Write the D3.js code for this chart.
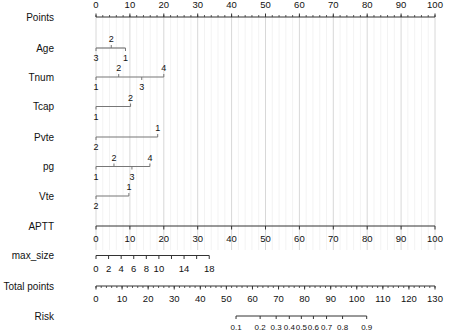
<!DOCTYPE html>
<html>
<head>
<meta charset="utf-8">
<script src="https://cdn.jsdelivr.net/npm/d3@7"></script>
<style>
  html, body { margin: 0; padding: 0; background: #fff; }
  svg text { font-family: "Liberation Sans", Arial, Helvetica, sans-serif; fill: #111; }
</style>
</head>
<body>
<svg id="chart" width="474" height="331"></svg>
<script>
// Nomogram: points contributed by each predictor, total points and predicted risk

// Points scale
const pointsMax = 100;
const pointsMajor = d3.range(0, 101, 10);
const pointsMinor = d3.range(0, 101, 2);

// Categorical predictors: level labels and the points they map to
const ageLevels  = ["3", "2", "1"];
const agePoints  = [0, 4.5, 8.7];
const ageSides   = ["below", "above", "below"];

const tnumLevels = ["1", "2", "3", "4"];
const tnumPoints = [0, 6.7, 13.5, 20.0];
const tnumSides  = ["below", "above", "below", "above"];

const tcapLevels = ["1", "2"];
const tcapPoints = [0, 10.2];
const tcapSides  = ["below", "above"];

const pvteLevels = ["2", "1"];
const pvtePoints = [0, 18.2];
const pvteSides  = ["below", "above"];

const pgLevels   = ["1", "2", "3", "4"];
const pgPoints   = [0, 5.3, 10.6, 15.9];
const pgSides    = ["below", "above", "below", "above"];

const vteLevels  = ["2", "1"];
const vtePoints  = [0, 9.7];
const vteSides   = ["below", "above"];

// Continuous predictors
const apttTicks = d3.range(0, 101, 10);
const apttRange = [0, 100];        // APTT value range
const apttPointRange = [0, 100];   // points for that range

const maxSizeTicks  = d3.range(0, 19, 2);
const maxSizeLabels = [0, 2, 4, 6, 8, 10, 14, 18];
const maxSizeRange = [0, 18];
const maxSizePointRange = [0, 33.4];

// Total points axis
const totalMax = 130;
const totalMajor = d3.range(0, 131, 10);
const totalMinor = d3.range(0, 131, 2);

// Risk axis, from a logistic model on total points
const riskTicks = [0.1, 0.2, 0.3, 0.4, 0.5, 0.6, 0.7, 0.8, 0.9];
const riskCenter = 78.75;   // total points where risk = 0.5
const riskSlope  = 0.0877;  // log-odds per total point

// Row labels
const rowNames = ["Points", "Age", "Tnum", "Tcap", "Pvte", "pg", "Vte", "APTT", "max_size", "Total points", "Risk"];

// ---------------------------------------------------------------
const svg = d3.select("#chart");
const xLeft = 96, xRight = 435;
const xPts = d3.scaleLinear().domain([0, pointsMax]).range([xLeft, xRight]);
const xTot = d3.scaleLinear().domain([0, totalMax]).range([xLeft, xRight]);

const rowY = [17, 48, 77, 106.5, 137, 166.5, 196, 226, 255.5, 286, 316];
const labelX = 54;
const axisColor = "#333";
const varColor = "#777";

// grid lines
const gridTop = rowY[0], gridBottom = 250;
const grid = svg.append("g");
grid.selectAll("line.minor")
  .data(pointsMinor.filter(v => v % 10 !== 0))
  .join("line")
  .attr("x1", d => xPts(d)).attr("x2", d => xPts(d))
  .attr("y1", gridTop).attr("y2", gridBottom)
  .attr("stroke", "#f3f3f3").attr("stroke-width", 1);
grid.selectAll("line.major")
  .data(pointsMajor)
  .join("line")
  .attr("x1", d => xPts(d)).attr("x2", d => xPts(d))
  .attr("y1", gridTop).attr("y2", gridBottom)
  .attr("stroke", "#d8d8d8").attr("stroke-width", 1);

// row labels
svg.append("g").selectAll("text")
  .data(rowNames)
  .join("text")
  .attr("x", labelX)
  .attr("y", (d, i) => rowY[i] + 3.5)
  .attr("text-anchor", "end")
  .attr("font-size", 10)
  .text(d => d);

// generic numeric axis: line, ticks, labels
function numericAxis(y, scale, major, minor, labels, side, fmt, fontSize) {
  const g = svg.append("g");
  const dir = side === "above" ? -1 : 1;
  const ext = d3.extent(major.concat(minor || []));
  g.append("line")
    .attr("x1", scale(ext[0])).attr("x2", scale(ext[1]))
    .attr("y1", y).attr("y2", y)
    .attr("stroke", axisColor).attr("stroke-width", 1);
  if (minor) {
    g.selectAll("line.mn").data(minor).join("line")
      .attr("x1", d => scale(d)).attr("x2", d => scale(d))
      .attr("y1", y).attr("y2", y + dir * 2)
      .attr("stroke", axisColor).attr("stroke-width", 0.8);
  }
  g.selectAll("line.mj").data(major).join("line")
    .attr("x1", d => scale(d)).attr("x2", d => scale(d))
    .attr("y1", y).attr("y2", y + dir * 3.5)
    .attr("stroke", axisColor).attr("stroke-width", 1);
  g.selectAll("text").data(labels).join("text")
    .attr("x", d => scale(d))
    .attr("y", side === "above" ? y - 9 : y + 16)
    .attr("text-anchor", "middle")
    .attr("font-size", fontSize)
    .text(d => fmt(d));
}

// categorical row: gray line with level labels alternating above/below
function categoricalRow(y, levels, pts, sides) {
  const g = svg.append("g");
  g.append("line")
    .attr("x1", xPts(d3.min(pts))).attr("x2", xPts(d3.max(pts)))
    .attr("y1", y).attr("y2", y)
    .attr("stroke", varColor).attr("stroke-width", 1.2);
  const items = levels.map((l, i) => ({ label: l, p: pts[i], side: sides[i] }));
  g.selectAll("line.t").data(items).join("line")
    .attr("x1", d => xPts(d.p)).attr("x2", d => xPts(d.p))
    .attr("y1", y).attr("y2", d => y + (d.side === "above" ? -3 : 3))
    .attr("stroke", varColor).attr("stroke-width", 1);
  g.selectAll("text").data(items).join("text")
    .attr("x", d => xPts(d.p))
    .attr("y", d => d.side === "above" ? y - 6 : y + 13)
    .attr("text-anchor", "middle")
    .attr("font-size", 9)
    .text(d => d.label);
}

// Points
numericAxis(rowY[0], xPts, pointsMajor, pointsMinor, pointsMajor, "above", d => d, 9.5);

categoricalRow(rowY[1], ageLevels, agePoints, ageSides);
categoricalRow(rowY[2], tnumLevels, tnumPoints, tnumSides);
categoricalRow(rowY[3], tcapLevels, tcapPoints, tcapSides);
categoricalRow(rowY[4], pvteLevels, pvtePoints, pvteSides);
categoricalRow(rowY[5], pgLevels, pgPoints, pgSides);
categoricalRow(rowY[6], vteLevels, vtePoints, vteSides);

// APTT
const apttScale = d3.scaleLinear().domain(apttRange).range(apttPointRange.map(xPts));
numericAxis(rowY[7], apttScale, apttTicks, null, apttTicks, "below", d => d, 9.5);

// max_size
const sizeScale = d3.scaleLinear().domain(maxSizeRange).range(maxSizePointRange.map(xPts));
numericAxis(rowY[8], sizeScale, maxSizeTicks, null, maxSizeLabels, "below", d => d, 9.5);

// Total points
numericAxis(rowY[9], xTot, totalMajor, totalMinor, totalMajor, "below", d => d, 9.5);

// Risk
const riskToTotal = r => riskCenter + Math.log(r / (1 - r)) / riskSlope;
const riskScale = r => xTot(riskToTotal(r));
(function () {
  const y = rowY[10];
  const g = svg.append("g");
  g.append("line")
    .attr("x1", riskScale(riskTicks[0])).attr("x2", riskScale(riskTicks[riskTicks.length - 1]))
    .attr("y1", y).attr("y2", y)
    .attr("stroke", axisColor).attr("stroke-width", 1);
  g.selectAll("line.t").data(riskTicks).join("line")
    .attr("x1", d => riskScale(d)).attr("x2", d => riskScale(d))
    .attr("y1", y).attr("y2", y + 3)
    .attr("stroke", axisColor).attr("stroke-width", 1);
  g.selectAll("text").data(riskTicks).join("text")
    .attr("x", d => riskScale(d))
    .attr("y", y + 13.5)
    .attr("text-anchor", "middle")
    .attr("font-size", 8)
    .text(d => d3.format(".1f")(d));
})();
</script>
</body>
</html>
